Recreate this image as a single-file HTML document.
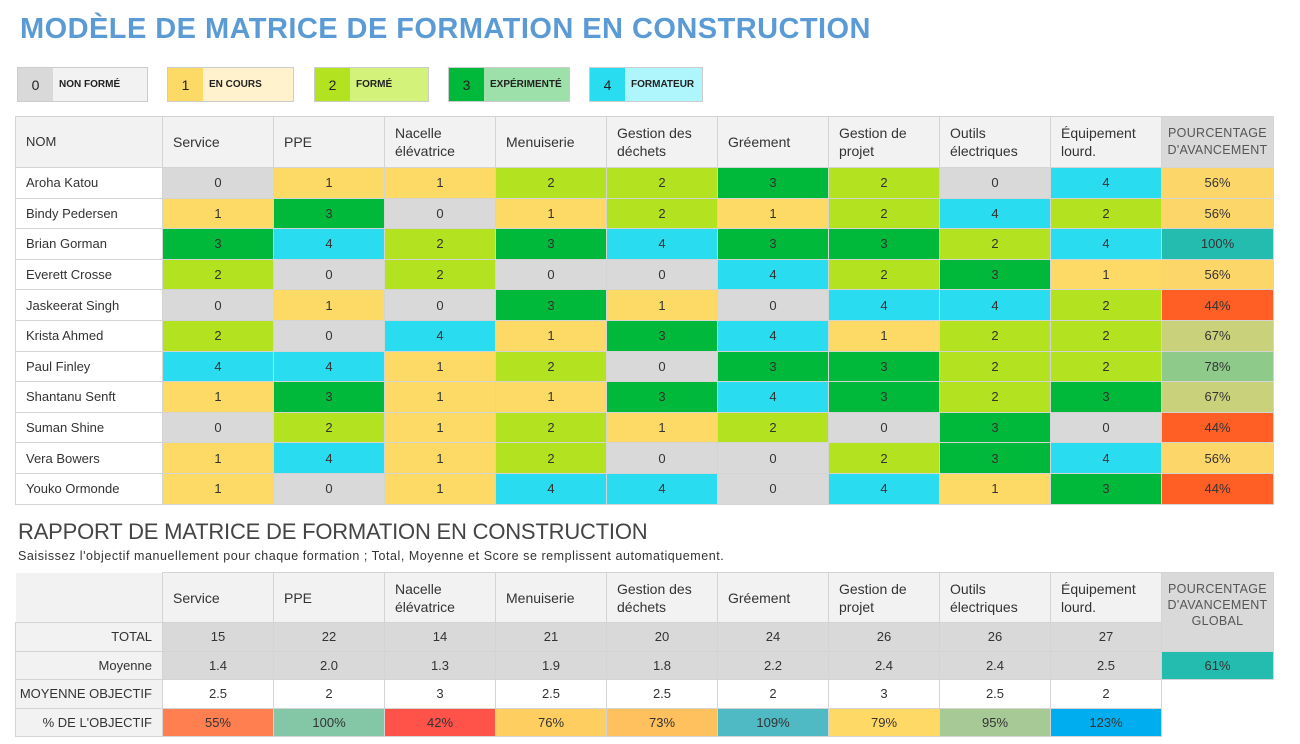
<!DOCTYPE html>
<html><head><meta charset="utf-8"><style>
*{margin:0;padding:0;box-sizing:border-box}
body{width:1300px;height:744px;background:#fff;font-family:"Liberation Sans",sans-serif;color:#333;position:relative;overflow:hidden}
h1{position:absolute;left:20px;top:13px;font-size:29px;font-weight:bold;color:#5b9bd5;letter-spacing:0.45px}
.lg{position:absolute;top:67px;height:35px;border:1px solid #ccc;display:flex;font-size:10px;font-weight:bold;color:#222}
.lg b{width:35px;display:flex;align-items:center;justify-content:center;font-size:14px;font-weight:normal}
.lg span{display:flex;align-items:center;padding-left:6px;flex:1}
table{position:absolute;border-collapse:collapse;table-layout:fixed}
td{border:1px solid #d4d4d4;font-size:13px;text-align:center;overflow:hidden;white-space:nowrap;padding:0}
#m{left:15px;top:116px;width:1258px}
#m tr.h td{height:51px;background:#f2f2f2;text-align:left;padding-left:10px;white-space:normal;font-size:14px;line-height:18px}
#m tr.h td.p{background:#d9d9d9;text-align:center;padding:0;font-size:12.5px;color:#555;line-height:17px;letter-spacing:0.3px}
#m td{height:30.6px}
#m td.n{text-align:left;padding-left:10px;background:#fff}
.c0{background:#d9d9d9}.c1{background:#fdd966}.c2{background:#b3e220}.c3{background:#00b83a}.c4{background:#29dcf0}
.p56{background:#fdd66a}.p100{background:#24bcae}.p44{background:#ff5f24}.p67{background:#c9d27a}.p78{background:#8ecb8a}
h2{position:absolute;left:18px;top:519px;font-size:22px;font-weight:normal;color:#444;letter-spacing:-0.2px}
.sub{position:absolute;left:18px;top:549px;font-size:12.5px;color:#333;letter-spacing:0.55px}
#r{left:15px;top:572px;width:1258px}
#r td{height:28.5px}
#r tr.h td{height:50px;background:#f2f2f2;text-align:left;padding-left:10px;white-space:normal;font-size:14px;line-height:18px}
#r td.l{text-align:right;padding-right:10px;background:#f2f2f2}
#r td.g{background:#d9d9d9}
#r td.e{border:none;background:#fff}
</style></head><body>
<h1>MODÈLE DE MATRICE DE FORMATION EN CONSTRUCTION</h1>
<div class="lg" style="left:17px;width:131px"><b style="background:#d9d9d9">0</b><span style="background:#f2f2f2">NON FORMÉ</span></div>
<div class="lg" style="left:167px;width:127px"><b style="background:#fdd966">1</b><span style="background:#fff2cc">EN COURS</span></div>
<div class="lg" style="left:314px;width:115px"><b style="background:#b3e220">2</b><span style="background:#d3f27a">FORMÉ</span></div>
<div class="lg" style="left:448px;width:122px"><b style="background:#00b83a">3</b><span style="background:#9de0a9">EXPÉRIMENTÉ</span></div>
<div class="lg" style="left:589px;width:114px"><b style="background:#29dcf0">4</b><span style="background:#aef6fb">FORMATEUR</span></div>
<table id="m">
<colgroup><col style="width:147px"><col span="9" style="width:111px"><col style="width:112px"></colgroup>
<tr class="h"><td style="font-size:13px">NOM</td><td>Service</td><td>PPE</td><td>Nacelle élévatrice</td><td>Menuiserie</td><td>Gestion des déchets</td><td>Gréement</td><td>Gestion de projet</td><td>Outils électriques</td><td>Équipement lourd.</td><td class="p">POURCENTAGE D'AVANCEMENT</td></tr>
<tr><td class="n">Aroha Katou</td><td class="c0">0</td><td class="c1">1</td><td class="c1">1</td><td class="c2">2</td><td class="c2">2</td><td class="c3">3</td><td class="c2">2</td><td class="c0">0</td><td class="c4">4</td><td class="p56">56%</td></tr>
<tr><td class="n">Bindy Pedersen</td><td class="c1">1</td><td class="c3">3</td><td class="c0">0</td><td class="c1">1</td><td class="c2">2</td><td class="c1">1</td><td class="c2">2</td><td class="c4">4</td><td class="c2">2</td><td class="p56">56%</td></tr>
<tr><td class="n">Brian Gorman</td><td class="c3">3</td><td class="c4">4</td><td class="c2">2</td><td class="c3">3</td><td class="c4">4</td><td class="c3">3</td><td class="c3">3</td><td class="c2">2</td><td class="c4">4</td><td class="p100">100%</td></tr>
<tr><td class="n">Everett Crosse</td><td class="c2">2</td><td class="c0">0</td><td class="c2">2</td><td class="c0">0</td><td class="c0">0</td><td class="c4">4</td><td class="c2">2</td><td class="c3">3</td><td class="c1">1</td><td class="p56">56%</td></tr>
<tr><td class="n">Jaskeerat Singh</td><td class="c0">0</td><td class="c1">1</td><td class="c0">0</td><td class="c3">3</td><td class="c1">1</td><td class="c0">0</td><td class="c4">4</td><td class="c4">4</td><td class="c2">2</td><td class="p44">44%</td></tr>
<tr><td class="n">Krista Ahmed</td><td class="c2">2</td><td class="c0">0</td><td class="c4">4</td><td class="c1">1</td><td class="c3">3</td><td class="c4">4</td><td class="c1">1</td><td class="c2">2</td><td class="c2">2</td><td class="p67">67%</td></tr>
<tr><td class="n">Paul Finley</td><td class="c4">4</td><td class="c4">4</td><td class="c1">1</td><td class="c2">2</td><td class="c0">0</td><td class="c3">3</td><td class="c3">3</td><td class="c2">2</td><td class="c2">2</td><td class="p78">78%</td></tr>
<tr><td class="n">Shantanu Senft</td><td class="c1">1</td><td class="c3">3</td><td class="c1">1</td><td class="c1">1</td><td class="c3">3</td><td class="c4">4</td><td class="c3">3</td><td class="c2">2</td><td class="c3">3</td><td class="p67">67%</td></tr>
<tr><td class="n">Suman Shine</td><td class="c0">0</td><td class="c2">2</td><td class="c1">1</td><td class="c2">2</td><td class="c1">1</td><td class="c2">2</td><td class="c0">0</td><td class="c3">3</td><td class="c0">0</td><td class="p44">44%</td></tr>
<tr><td class="n">Vera Bowers</td><td class="c1">1</td><td class="c4">4</td><td class="c1">1</td><td class="c2">2</td><td class="c0">0</td><td class="c0">0</td><td class="c2">2</td><td class="c3">3</td><td class="c4">4</td><td class="p56">56%</td></tr>
<tr><td class="n">Youko Ormonde</td><td class="c1">1</td><td class="c0">0</td><td class="c1">1</td><td class="c4">4</td><td class="c4">4</td><td class="c0">0</td><td class="c4">4</td><td class="c1">1</td><td class="c3">3</td><td class="p44">44%</td></tr>
</table>
<h2>RAPPORT DE MATRICE DE FORMATION EN CONSTRUCTION</h2>
<div class="sub">Saisissez l'objectif manuellement pour chaque formation ; Total, Moyenne et Score se remplissent automatiquement.</div>
<table id="r">
<colgroup><col style="width:147px"><col span="9" style="width:111px"><col style="width:112px"></colgroup>
<tr class="h"><td class="e"></td><td>Service</td><td>PPE</td><td>Nacelle élévatrice</td><td>Menuiserie</td><td>Gestion des déchets</td><td>Gréement</td><td>Gestion de projet</td><td>Outils électriques</td><td>Équipement lourd.</td><td rowspan="2" style="background:#d9d9d9;text-align:center;padding:8px 0 0;vertical-align:top;font-size:12.5px;color:#555;line-height:16px;letter-spacing:0.3px">POURCENTAGE D'AVANCEMENT GLOBAL</td></tr>
<tr><td class="l">TOTAL</td><td class="g">15</td><td class="g">22</td><td class="g">14</td><td class="g">21</td><td class="g">20</td><td class="g">24</td><td class="g">26</td><td class="g">26</td><td class="g">27</td></tr>
<tr><td class="l">Moyenne</td><td class="g">1.4</td><td class="g">2.0</td><td class="g">1.3</td><td class="g">1.9</td><td class="g">1.8</td><td class="g">2.2</td><td class="g">2.4</td><td class="g">2.4</td><td class="g">2.5</td><td style="background:#24bcae">61%</td></tr>
<tr><td class="l">MOYENNE OBJECTIF</td><td>2.5</td><td>2</td><td>3</td><td>2.5</td><td>2.5</td><td>2</td><td>3</td><td>2.5</td><td>2</td><td class="e"></td></tr>
<tr><td class="l">% DE L'OBJECTIF</td><td style="background:#ff7f50">55%</td><td style="background:#84c7a6">100%</td><td style="background:#ff5249">42%</td><td style="background:#fecf60">76%</td><td style="background:#ffc15e">73%</td><td style="background:#4fb9c4">109%</td><td style="background:#ffd966">79%</td><td style="background:#a6c996">95%</td><td style="background:#00aeef">123%</td><td class="e"></td></tr>
</table>
</body></html>
